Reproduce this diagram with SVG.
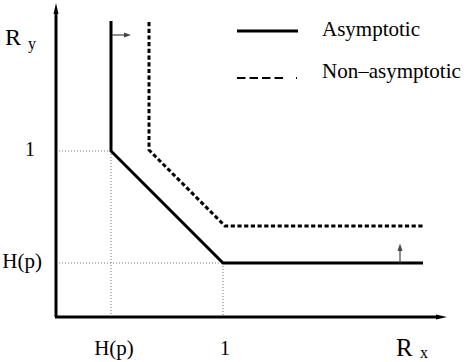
<svg xmlns="http://www.w3.org/2000/svg" width="474" height="362" viewBox="0 0 474 362">
<style>
.lbl{font-family:"Liberation Serif","Times New Roman",serif;fill:#000}
.axis{stroke:#000;stroke-width:3;fill:none}
.solid{stroke:#000;stroke-width:3;fill:none;stroke-linejoin:miter}
.dot{stroke:#000;stroke-width:3;fill:none;stroke-dasharray:4.2 2.5}
.guide{stroke:#777;stroke-width:1;fill:none;stroke-dasharray:1 2}
.small{stroke:#444;stroke-width:1.2;fill:none}
</style>
<rect width="474" height="362" fill="#fff"/>
<g id="guides">
<path class="guide" d="M56 151H111M111 151V317M56 263H223M223 263V317"/>
</g>
<g id="axes">
<path class="axis" d="M56 317V12"/>
<polygon points="56,3 53.5,14 58.5,14" fill="#000"/>
<path class="axis" d="M55 317H438"/>
<polygon points="447,317 436,314.5 436,319.5" fill="#000"/>
</g>
<g id="asymptotic">
<path class="solid" d="M111 21V151L223 263H423"/>
</g>
<g id="non-asymptotic">
<path class="dot" d="M149 22V150L225 226H423"/>
</g>
<g id="shift-arrows">
<path class="small" d="M112 35H125"/>
<polygon points="131,35 124,32.5 124,37.5" fill="#444"/>
<path class="small" d="M400 263V250"/>
<polygon points="400,243.5 397.5,251 402.5,251" fill="#444"/>
</g>
<g id="legend">
<path stroke="#000" stroke-width="3" d="M237 31H298"/>
<path stroke="#000" stroke-width="2.2" stroke-dasharray="8.5 4 8.5 4 8.5 4 8.5 13 1 10" d="M237 78H298"/>
<text class="lbl" x="322" y="36" font-size="21">Asymptotic</text>
<text class="lbl" x="322" y="78" font-size="21">Non–asymptotic</text>
</g>
<g id="labels">
<text class="lbl" x="5" y="45" font-size="24">R</text>
<text class="lbl" x="28" y="49" font-size="16">y</text>
<text class="lbl" x="30" y="156" font-size="20" text-anchor="middle">1</text>
<text class="lbl" x="42" y="268" font-size="21" text-anchor="end">H(p)</text>
<text class="lbl" x="114" y="355" font-size="21" text-anchor="middle">H(p)</text>
<text class="lbl" x="225" y="355" font-size="20" text-anchor="middle">1</text>
<text class="lbl" x="396" y="356" font-size="25">R</text>
<text class="lbl" x="420" y="358" font-size="16">x</text>
</g>
</svg>
